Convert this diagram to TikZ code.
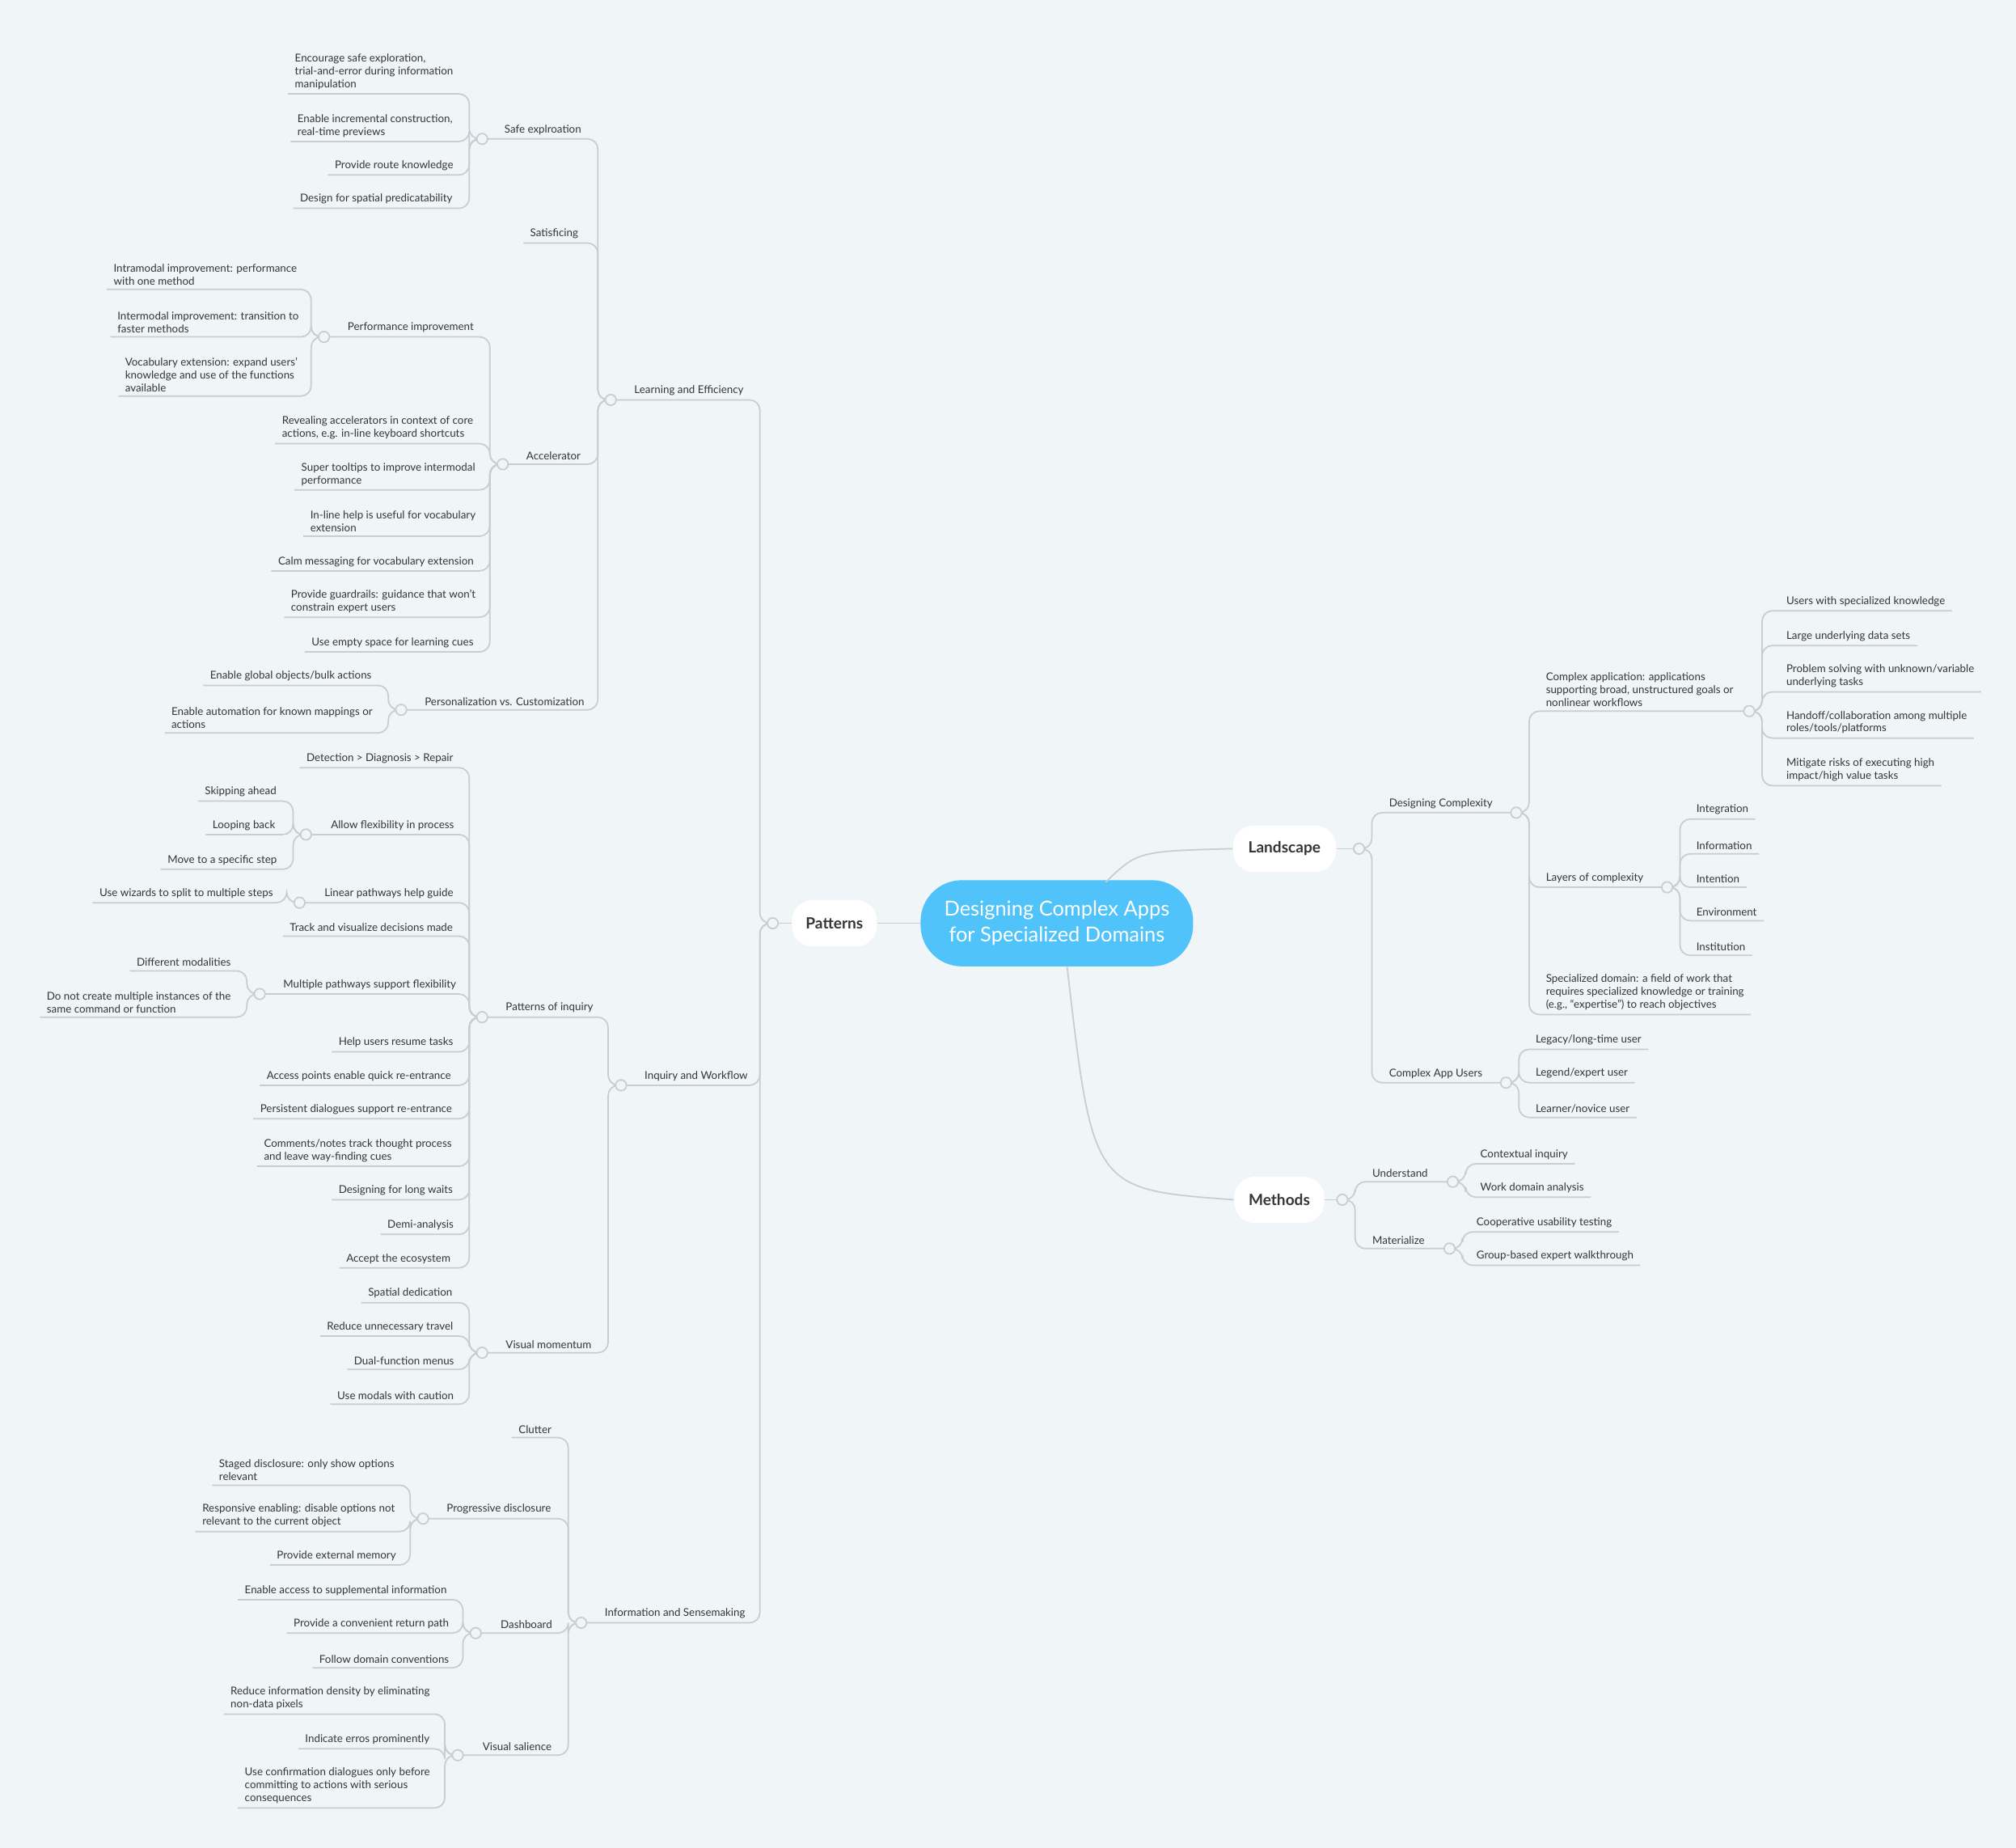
\documentclass[tikz,border=0pt]{standalone}
\usepackage{fontspec}
\setmainfont{Lato}
\usetikzlibrary{calc}
\definecolor{bg}{HTML}{F0F5F8}
\definecolor{ln}{HTML}{C9CDD1}
\definecolor{tx}{HTML}{353535}
\definecolor{rootc}{HTML}{4FC3FA}
\tikzset{
  txt/.style={inner sep=0pt,align=left,text=tx,font=\fontsize{4.2}{5}\selectfont},
  conn/.style={draw=ln,line width=0.55pt,rounded corners=4pt},
  dotc/.style={draw=ln,fill=bg,line width=0.55pt},
  mainbox/.style={fill=white,rounded corners=8pt,minimum width=33pt,minimum height=18pt,inner sep=0pt,text=tx,font=\fontsize{6}{7}\selectfont\bfseries}
}
\newcommand\Lnode[6][5]{%
  \node[txt,anchor=south west] (#2-t) at (#4,#5-3) {#6};
  \coordinate (#2) at ($(#2-t.south west)+(-#1,3)$);
  \draw[conn] (#2) -| ($(#3)+(-10,0)$) -- (#3);}
\newcommand\Rnode[6][5]{%
  \node[txt,anchor=south west] (#2-t) at (#4,#5-3) {#6};
  \coordinate (#2) at ($(#2-t.south east)+(#1,3)$);
  \draw[conn] (#2) -| ($(#3)+(10,0)$) -- (#3);}
\begin{document}
\begin{tikzpicture}[x=0.5pt,y=-0.5pt]
\fill[bg] (0,0) rectangle (1568,1437);
\useasboundingbox (0,0) rectangle (1568,1437);
% main
\node[fill=rootc,rounded corners=16pt,minimum width=106pt,minimum height=33.5pt,inner sep=0pt,text=white,align=center,font=\fontsize{8}{10}\selectfont] (root) at (822,718) {Designing Complex Apps\\for Specialized Domains};
\node[mainbox] (patbox) at (649,718) {Patterns};
\node[mainbox,minimum width=40pt] (landbox) at (999,660) {Landscape};
\node[mainbox,minimum width=35pt] (methbox) at (995,933) {Methods};
\coordinate (pat) at (601,718);
\coordinate (land) at (1057,660);
\coordinate (meth) at (1044,933);
\draw[conn] (root.west) -- (patbox.east);
\draw[conn] (patbox.west) -- (pat);
\draw[conn] (landbox.east) -- (land);
\draw[conn] (methbox.east) -- (meth);
\draw[conn] (860,686) .. controls (885,662) .. (landbox.west);
\draw[conn] (830,752) .. controls (850,925) .. (methbox.west);
% ---------- Patterns / Learning and Efficiency
\Lnode[18]{le}{pat}{493}{311}{Learning and Efficiency}
\Lnode[17]{se}{le}{392}{108}{Safe explroation}
\Lnode{se1}{se}{229}{73}{Encourage safe exploration,\\trial-and-error during information\\manipulation}
\Lnode{se2}{se}{231}{110}{Enable incremental construction,\\real-time previews}
\Lnode{se3}{se}{260}{136}{Provide route knowledge}
\Lnode{se4}{se}{233}{162}{Design for spatial predicatability}
\Lnode{sat}{le}{412}{189}{Satisficing}
\Lnode[18]{acc}{le}{409}{361}{Accelerator}
\Lnode[18]{pi}{acc}{270}{262}{Performance improvement}
\Lnode{pi1}{pi}{88}{225}{Intramodal improvement: performance\\with one method}
\Lnode{pi2}{pi}{91}{262}{Intermodal improvement: transition to\\faster methods}
\Lnode{pi3}{pi}{97}{308}{Vocabulary extension: expand users'\\knowledge and use of the functions\\available}
\Lnode{ac1}{acc}{219}{345}{Revealing accelerators in context of core\\actions, e.g. in-line keyboard shortcuts}
\Lnode{ac2}{acc}{234}{381}{Super tooltips to improve intermodal\\performance}
\Lnode{ac3}{acc}{241}{417}{In-line help is useful for vocabulary\\extension}
\Lnode{ac4}{acc}{216}{444}{Calm messaging for vocabulary extension}
\Lnode{ac5}{acc}{226}{480}{Provide guardrails: guidance that won't\\constrain expert users}
\Lnode{ac6}{acc}{242}{507}{Use empty space for learning cues}
\Lnode[18]{pc}{le}{330}{552}{Personalization vs. Customization}
\Lnode{pc1}{pc}{163}{533}{Enable global objects/bulk actions}
\Lnode{pc2}{pc}{133}{570}{Enable automation for known mappings or\\actions}
% ---------- Inquiry and Workflow
\Lnode[18]{iw}{pat}{501}{844}{Inquiry and Workflow}
\Lnode[18]{poi}{iw}{393}{791}{Patterns of inquiry}
\Lnode{pq1}{poi}{238}{597}{Detection > Diagnosis > Repair}
\Lnode[19]{af}{poi}{257}{649}{Allow flexibility in process}
\Lnode{af1}{af}{159}{623}{Skipping ahead}
\Lnode{af2}{af}{165}{649}{Looping back}
\Lnode{af3}{af}{130}{676}{Move to a specific step}
\Lnode[19]{lp}{poi}{252}{702}{Linear pathways help guide}
\Lnode{lp1}{lp}{77}{702}{Use wizards to split to multiple steps}
\Lnode{pq2}{poi}{225}{728}{Track and visualize decisions made}
\Lnode[18]{mp}{poi}{220}{773}{Multiple pathways support flexibility}
\Lnode{mp1}{mp}{106}{755}{Different modalities}
\Lnode{mp2}{mp}{36}{791}{Do not create multiple instances of the\\same command or function}
\Lnode{pq3}{poi}{263}{818}{Help users resume tasks}
\Lnode{pq4}{poi}{207}{844}{Access points enable quick re-entrance}
\Lnode{pq5}{poi}{202}{870}{Persistent dialogues support re-entrance}
\Lnode{pq6}{poi}{205}{907}{Comments/notes track thought process\\and leave way-finding cues}
\Lnode{pq7}{poi}{263}{933}{Designing for long waits}
\Lnode{pq8}{poi}{301}{960}{Demi-analysis}
\Lnode{pq9}{poi}{269}{986}{Accept the ecosystem}
\Lnode[18]{vm}{iw}{393}{1052}{Visual momentum}
\Lnode{vm1}{vm}{286}{1013}{Spatial dedication}
\Lnode{vm2}{vm}{254}{1039}{Reduce unnecessary travel}
\Lnode{vm3}{vm}{275}{1065}{Dual-function menus}
\Lnode{vm4}{vm}{262}{1092}{Use modals with caution}
% ---------- Information and Sensemaking
\Lnode[18]{is}{pat}{470}{1262}{Information and Sensemaking}
\Lnode{cl}{is}{403}{1118}{Clutter}
\Lnode[18]{pd}{is}{347}{1181}{Progressive disclosure}
\Lnode{pd1}{pd}{170}{1155}{Staged disclosure: only show options\\relevant}
\Lnode{pd2}{pd}{157}{1191}{Responsive enabling: disable options not\\relevant to the current object}
\Lnode{pd3}{pd}{215}{1217}{Provide external memory}
\Lnode[19]{db}{is}{389}{1270}{Dashboard}
\Lnode{db1}{db}{190}{1244}{Enable access to supplemental information}
\Lnode{db2}{db}{228}{1270}{Provide a convenient return path}
\Lnode{db3}{db}{248}{1297}{Follow domain conventions}
\Lnode[19]{vs}{is}{375}{1365}{Visual salience}
\Lnode{vs1}{vs}{179}{1333}{Reduce information density by eliminating\\non-data pixels}
\Lnode{vs2}{vs}{237}{1360}{Indicate erros prominently}
\Lnode{vs3}{vs}{190}{1406}{Use confirmation dialogues only before\\committing to actions with serious\\consequences}
% ---------- Landscape
\Rnode[18]{dc}{land}{1080}{632}{Designing Complexity}
\Rnode[12]{ca}{dc}{1202}{553}{Complex application: applications\\supporting broad, unstructured goals or\\nonlinear workflows}
\Rnode{ca1}{ca}{1389}{475}{Users with specialized knowledge}
\Rnode{ca2}{ca}{1389}{502}{Large underlying data sets}
\Rnode{ca3}{ca}{1389}{538}{Problem solving with unknown/variable\\underlying tasks}
\Rnode{ca4}{ca}{1389}{574}{Handoff/collaboration among multiple\\roles/tools/platforms}
\Rnode{ca5}{ca}{1389}{611}{Mitigate risks of executing high\\impact/high value tasks}
\Rnode[18]{lc}{dc}{1202}{690}{Layers of complexity}
\Rnode{lc1}{lc}{1319}{637}{Integration}
\Rnode{lc2}{lc}{1319}{664}{Information}
\Rnode{lc3}{lc}{1319}{690}{Intention}
\Rnode{lc4}{lc}{1319}{716}{Environment}
\Rnode{lc5}{lc}{1319}{743}{Institution}
\Rnode{sd}{dc}{1202}{789}{Specialized domain: a field of work that\\requires specialized knowledge or training\\(e.g., “expertise”) to reach objectives}
\Rnode[18]{cu}{land}{1080}{842}{Complex App Users}
\Rnode{cu1}{cu}{1194}{816}{Legacy/long-time user}
\Rnode{cu2}{cu}{1194}{842}{Legend/expert user}
\Rnode{cu3}{cu}{1194}{869}{Learner/novice user}
% ---------- Methods
\Rnode[19]{un}{meth}{1067}{919}{Understand}
\Rnode{un1}{un}{1151}{905}{Contextual inquiry}
\Rnode{un2}{un}{1151}{931}{Work domain analysis}
\Rnode[19]{ma}{meth}{1067}{971}{Materialize}
\Rnode{ma1}{ma}{1148}{958}{Cooperative usability testing}
\Rnode{ma2}{ma}{1148}{984}{Group-based expert walkthrough}
% dots
\foreach \d in {pat,land,meth,le,se,acc,pi,pc,iw,poi,af,lp,mp,vm,is,pd,db,vs,dc,ca,lc,cu,un,ma}
  \draw[dotc] (\d) circle (2.1pt);
\end{tikzpicture}
\end{document}
